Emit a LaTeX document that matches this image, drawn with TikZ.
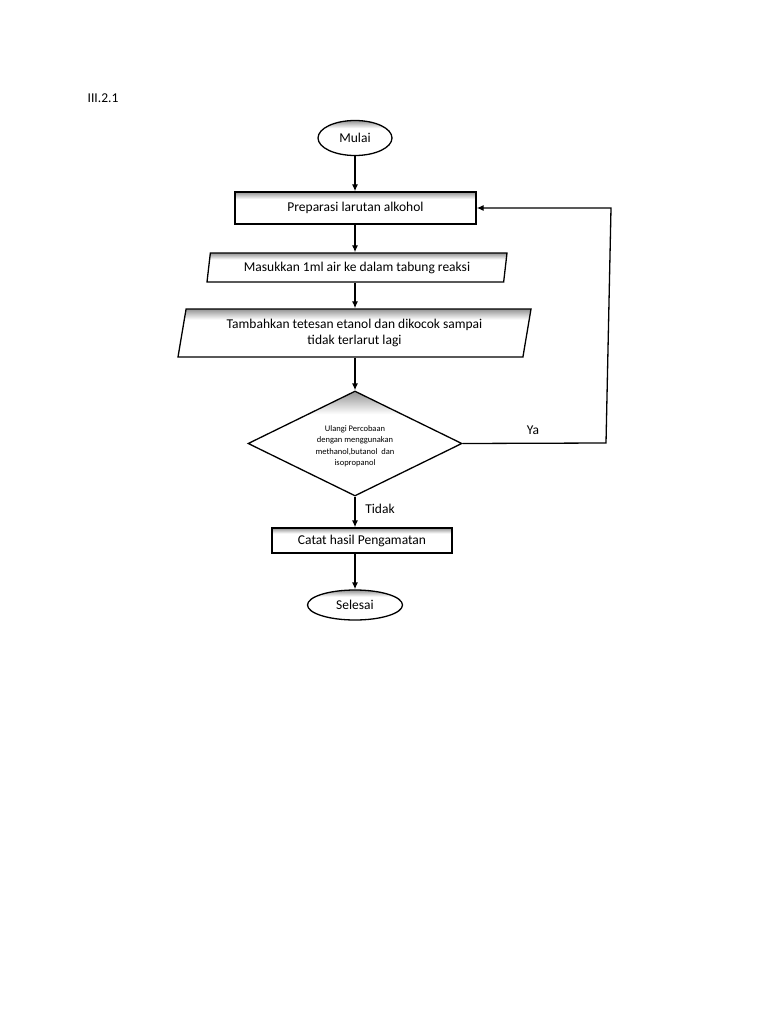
\documentclass[tikz,border=0pt]{standalone}
\usepackage{fontspec}
\setmainfont{Carlito}
\usetikzlibrary{shapes.geometric,arrows.meta}
\pgfdeclareverticalshading{topgray}{100bp}{color(0bp)=(white); color(64bp)=(white); color(75bp)=(black!42); color(100bp)=(black!42)}
\begin{document}
\begin{tikzpicture}[x=1pt,y=-1pt,
  box/.style={draw=black, line width=1.3pt, shading=topgray, inner sep=0pt, font=\fontsize{13.5}{16.5}\selectfont},
  para/.style={box, trapezium, trapezium left angle=74, trapezium right angle=106, trapezium stretches body=true, align=center},
  term/.style={box, ellipse, inner sep=0pt},
  flow/.style={line width=1.3pt, -{Latex[length=7pt,width=6pt]}},
  lbl/.style={font=\fontsize{13.5}{16.5}\selectfont}]
\useasboundingbox (0,0) rectangle (768,1024);
\node[lbl] (title) at (103,98) {III.2.1};
\node[term, minimum width=74pt, minimum height=35pt] (mulai) at (355,138) {Mulai};
\node[box, rectangle, minimum width=241pt, minimum height=32pt] (prep) at (355.5,208) {\raisebox{3pt}{Preparasi larutan alkohol}};
\node[para, minimum width=300pt, minimum height=29pt] (masuk) at (357,267.5) {Masukkan 1ml air ke dalam tabung reaksi};
\node[para, minimum width=353pt, minimum height=48pt] (tamb) at (354.5,333) {Tambahkan tetesan etanol dan dikocok sampai\\tidak terlarut lagi};
\node[box, diamond, minimum width=214pt, minimum height=105pt] (ulang) at (355,443.5) {};
\node[align=center, inner sep=0pt, font=\fontsize{8.5}{11.5}\selectfont] (ulangtxt) at (355,446) {Ulangi Percobaan\\dengan menggunakan\\methanol,butanol\ \ dan\\isopropanol};
\node[box, rectangle, minimum width=180pt, minimum height=25pt] (catat) at (362,540.5) {Catat hasil Pengamatan};
\node[term, minimum width=95pt, minimum height=30pt] (selesai) at (355,605) {Selesai};
\coordinate (c1) at (606,443);
\coordinate (c2) at (611,208);
\draw[flow] (mulai.south) -- (mulai.south |- prep.north);
\draw[flow] (355,0 |- prep.south) -- (355,0 |- masuk.north);
\draw[flow] (355,0 |- masuk.south) -- (355,0 |- tamb.north);
\draw[flow] (355,0 |- tamb.south) -- (ulang.north);
\draw[flow] (ulang.south) -- (ulang.south |- catat.north);
\draw[flow] (355,0 |- catat.south) -- (selesai.north);
\draw[flow] (ulang.east) -- (c1) -- (c2) -- (prep.east);
\node[lbl] (ya) at (533,430) {Ya};
\node[lbl] (tidak) at (380,509) {Tidak};
\end{tikzpicture}
\end{document}
